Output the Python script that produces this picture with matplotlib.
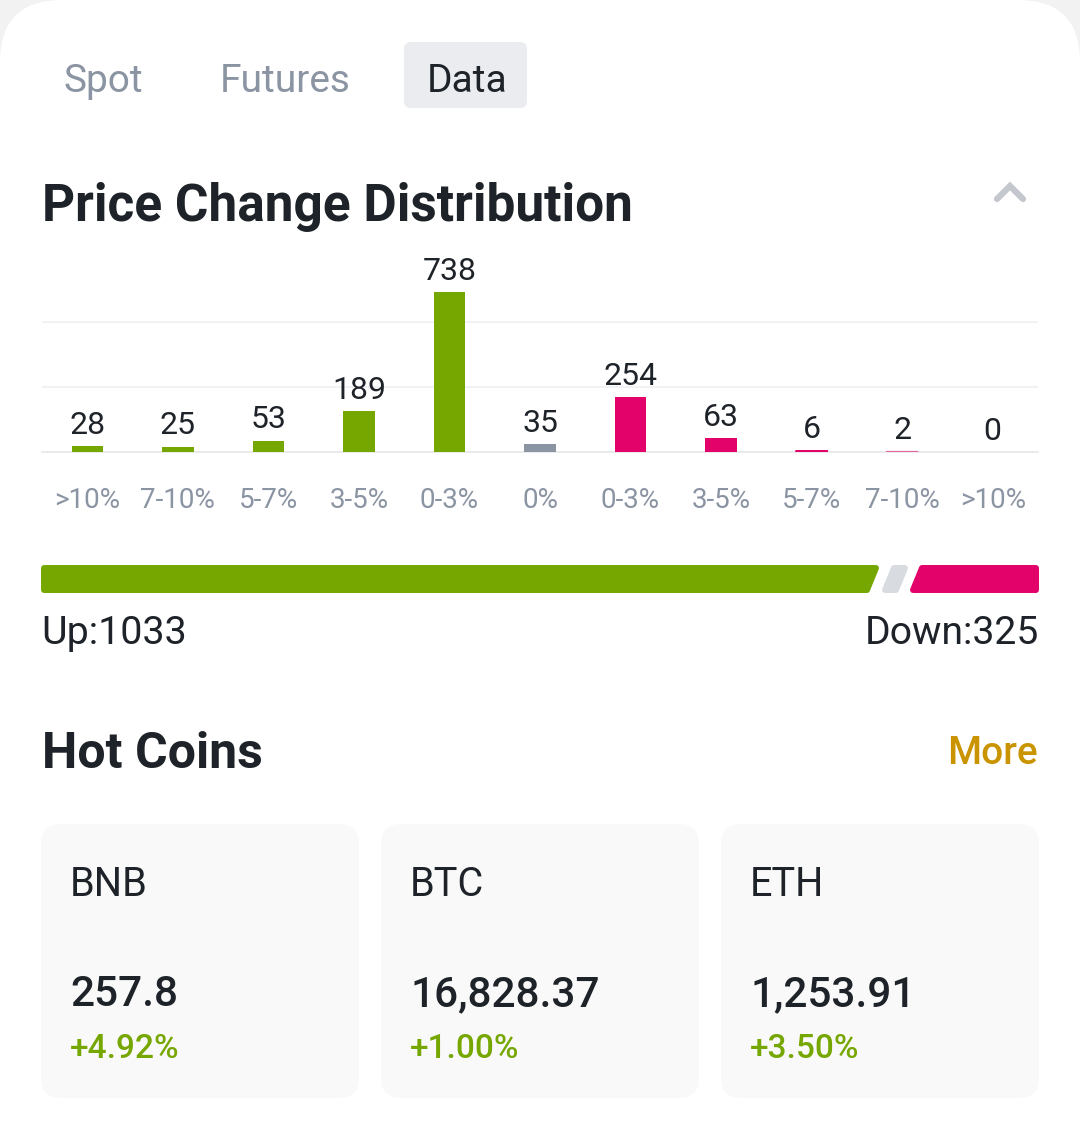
import matplotlib
matplotlib.use('Agg')
import matplotlib.pyplot as plt
from matplotlib.patches import FancyBboxPatch, Polygon

plt.rcParams['font.family'] = ['Roboto', 'DejaVu Sans']

W, H = 1080, 1135

# Datos
categorias = ['>10%', '7-10%', '5-7%', '3-5%', '0-3%', '0%', '0-3%', '3-5%', '5-7%', '7-10%', '>10%']
valores = [28, 25, 53, 189, 738, 35, 254, 63, 6, 2, 0]
tipos = ['up', 'up', 'up', 'up', 'up', 'flat', 'down', 'down', 'down', 'down', 'down']
ticks_y = [0, 300, 600]

# anchos de la barra Up/Down (no son proporcionales a los conteos)
segmentos = [838, 31, 129]
tabs = ['Spot', 'Futures', 'Data']
monedas = ['BNB', 'BTC', 'ETH']
precios = ['257.8', '16,828.37', '1,253.91']
cambios = ['+4.92%', '+1.00%', '+3.50%']

VERDE = '#76a700'
ROJO = '#e2026a'
GRIS = '#8b94a3'
OSCURO = '#1e2329'
COLORES = {'up': VERDE, 'flat': GRIS, 'down': ROJO}

fig = plt.figure(figsize=(W / 100, H / 100), dpi=100, facecolor='#f2f2f2')

# Capa base en pixeles
bg = fig.add_axes([0, 0, 1, 1])
bg.set_xlim(0, W)
bg.set_ylim(H, 0)
bg.axis('off')
bg.add_patch(FancyBboxPatch((0, 0), W, H + 200, boxstyle='round,pad=0,rounding_size=62',
                            fc='white', ec='none'))

# Pestanas
bg.add_patch(FancyBboxPatch((404, 42), 123, 66, boxstyle='round,pad=0,rounding_size=7',
                            fc='#eaecef', ec='none'))
for nombre, x, color in zip(tabs, [103, 285, 467], [GRIS, GRIS, OSCURO]):
    bg.text(x, 81, nombre, fontsize=28, color=color, ha='center', va='center')

bg.text(42, 207, 'Price Change Distribution', fontsize=37, fontweight='bold',
        color=OSCURO, ha='left', va='center')
bg.plot([997, 1010, 1023], [199, 186, 199], color='#c4c8ce', lw=4.5,
        solid_capstyle='round', solid_joinstyle='miter')

# Grafico de barras
alto_px = 195
ax = fig.add_axes([42 / W, 1 - 452 / H, (1038 - 42) / W, alto_px / H])
ax.set_facecolor('none')
ax.set_xlim(-0.5, 10.5)
ax.set_ylim(0, 900)
x_pos = list(range(len(valores)))
barras = ax.bar(x_pos, valores, width=0.348, color=[COLORES[t] for t in tipos], zorder=3)
# las barras de 2 y 6 miden menos de 2 px: borde para que se vean de su color
for b, t, v in zip(barras, tipos, valores):
    if 0 < v < 10:
        b.set_edgecolor(COLORES[t])
        b.set_linewidth(1.0)
        b.set_snap(False)
        if v <= 2:
            b.set_alpha(0.45)
for x, v in zip(x_pos, valores):
    ax.annotate(str(v), (x, v), xytext=(0, 15), textcoords='offset points',
                ha='center', va='center', fontsize=23, color=OSCURO, zorder=4)
ax.set_xticks(x_pos)
ax.set_xticklabels(categorias, fontsize=20, color=GRIS)
ax.set_yticks(ticks_y)
ax.tick_params(axis='x', length=0, pad=25)
ax.tick_params(axis='y', length=0, labelleft=False)
ax.grid(axis='y', color='#eef0f2', lw=1.2, zorder=0)
for s in ['top', 'left', 'right']:
    ax.spines[s].set_visible(False)
ax.spines['bottom'].set_color('#e6e8ea')
ax.spines['bottom'].set_linewidth(1.2)

# Barra Up / Down
bar_ax = fig.add_axes([41 / W, 1 - 593 / H, 998 / W, 28 / H])
bar_ax.set_xlim(0, sum(segmentos))
bar_ax.set_ylim(0, 28)
bar_ax.axis('off')
SLANT = 9
r = 3
ini = 0
colores_seg = [VERDE, '#d8dce1', ROJO]
for i, (ancho, color) in enumerate(zip(segmentos, colores_seg)):
    fin = ini + ancho
    # el segmento gris deja un hueco a cada lado
    hueco_izq, hueco_der = (3, 2) if i == 1 else (0, 0)
    izq_inf = ini + hueco_izq + r
    izq_sup = izq_inf + (SLANT if i > 0 else 0)
    der_sup = fin - hueco_der - r
    der_inf = der_sup - (SLANT if i < 2 else 0)
    bar_ax.add_patch(Polygon([(izq_inf, r), (der_inf, r), (der_sup, 28 - r), (izq_sup, 28 - r)],
                             closed=True, fc=color, ec=color, lw=4.3, joinstyle='round',
                             clip_on=False))
    ini = fin

bg.text(41, 634, 'Up:1033', fontsize=28.4, color=OSCURO, ha='left', va='center')
bg.text(1039, 634, 'Down:325', fontsize=28.2, color=OSCURO, ha='right', va='center')

bg.text(42, 754, 'Hot Coins', fontsize=36, fontweight='bold', color=OSCURO, ha='left', va='center')
bg.text(1038, 753, 'More', fontsize=28, fontweight='medium', color='#c99400', ha='right', va='center')

# Tarjetas
for x0, moneda, precio, cambio in zip([41, 381, 721], monedas, precios, cambios):
    bg.add_patch(FancyBboxPatch((x0, 824), 318, 274, boxstyle='round,pad=0,rounding_size=20',
                                fc='#f9f9f9', ec='none'))
    bg.text(x0 + 29, 885, moneda, fontsize=28.5, color=OSCURO, ha='left', va='center')
    bg.text(x0 + 29, 995, precio, fontsize=30.5, fontweight='medium', color=OSCURO, ha='left', va='center')
    bg.text(x0 + 29, 1049, cambio, fontsize=24, fontweight='medium', color=VERDE, ha='left', va='center')

fig.savefig('out.png', dpi=100, facecolor=fig.get_facecolor())
plt.close(fig)
